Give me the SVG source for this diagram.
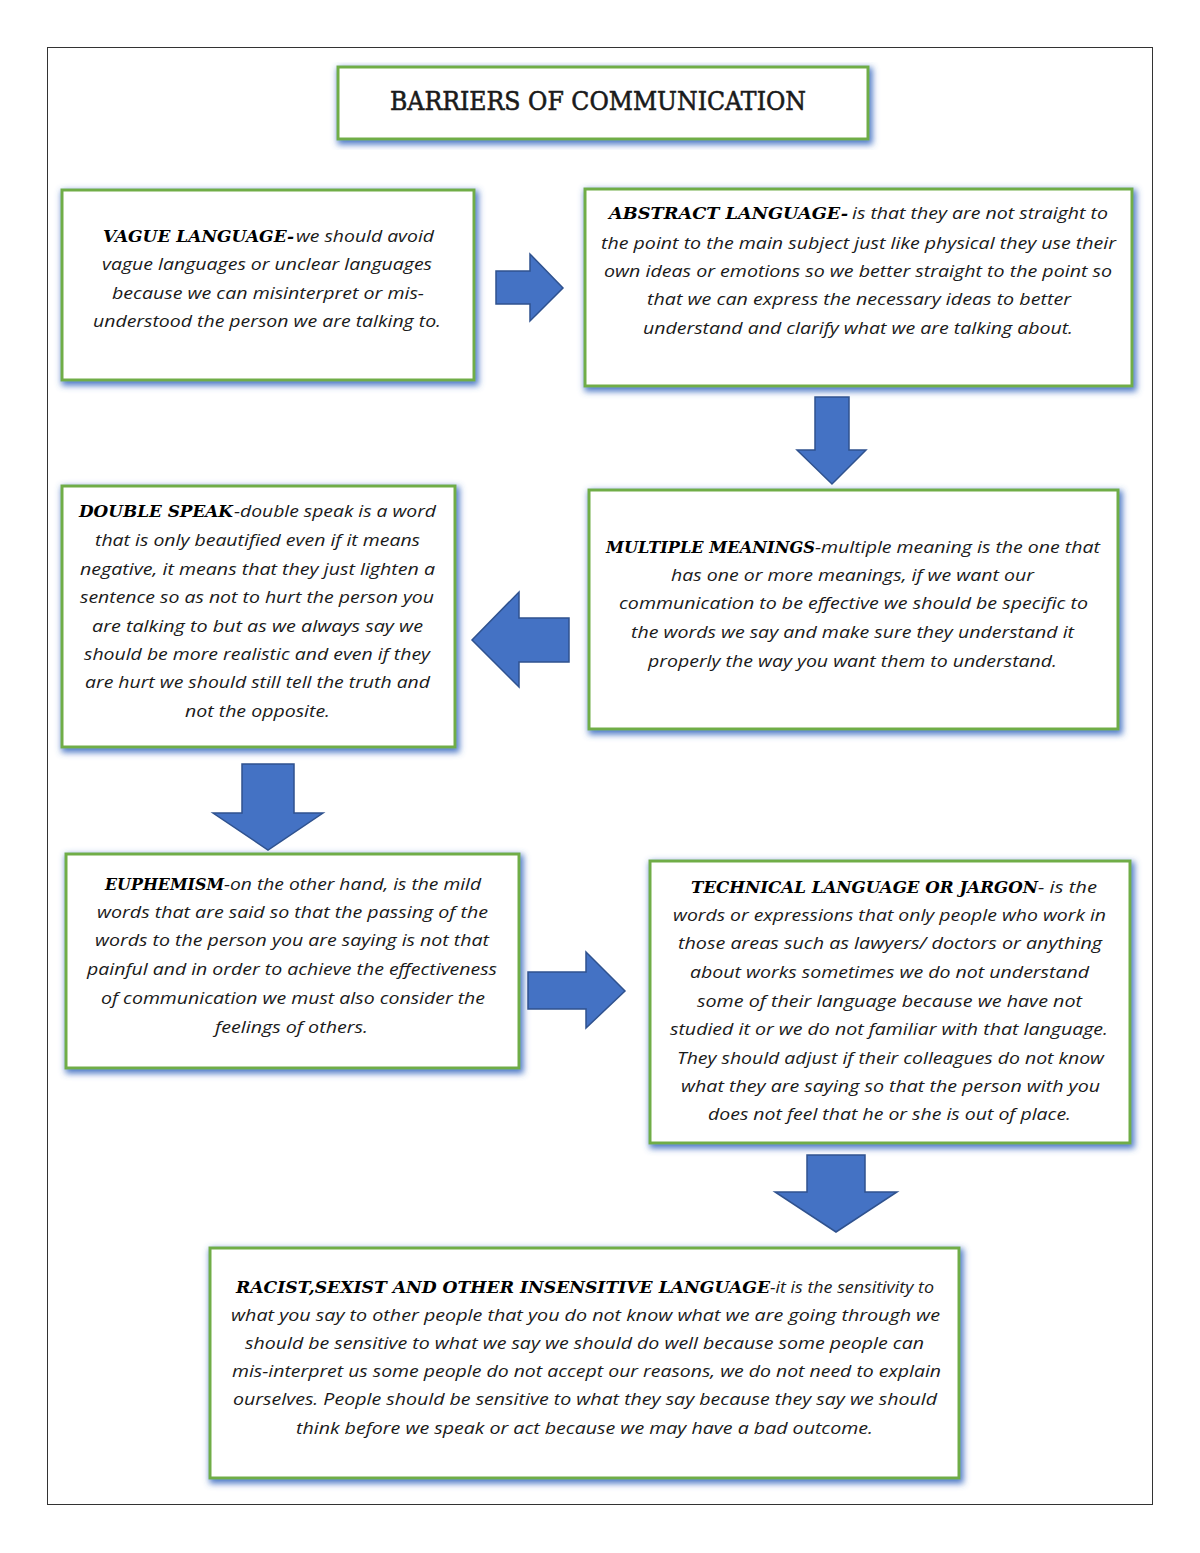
<svg xmlns="http://www.w3.org/2000/svg" width="1200" height="1553" viewBox="0 0 1200 1553">
<style>
.box{fill:#fff;stroke:#70AD47;stroke-width:3;filter:url(#glow)}
.arrow{fill:#4472C4;stroke:#2F528F;stroke-width:1.5;stroke-linejoin:miter}
.t{font-family:"Open Sans","Liberation Sans",sans-serif;font-style:italic;font-size:16.5px;fill:#1a1a1a}
.h{font-family:"DejaVu Serif","Liberation Serif",serif;font-style:italic;font-weight:bold;font-size:16px;fill:#000}
.title{font-family:"DejaVu Serif","Liberation Serif",serif;font-size:26px;fill:#1a1a1a;stroke:#1a1a1a;stroke-width:0.6}
</style>
<defs>
<filter id="glow" x="-6%" y="-10%" width="114%" height="125%">
<feMorphology in="SourceAlpha" operator="dilate" radius="1" result="d"/>
<feGaussianBlur in="d" stdDeviation="3" result="b"/>
<feOffset in="b" dx="2" dy="3" result="o"/>
<feFlood flood-color="#4472C4" flood-opacity="0.95"/>
<feComposite in2="o" operator="in" result="s"/>
<feMerge><feMergeNode in="s"/><feMergeNode in="SourceGraphic"/></feMerge>
</filter>
</defs>
<rect x="0" y="0" width="1200" height="1553" fill="#fff"/>
<rect x="47.5" y="47.5" width="1105" height="1457" fill="none" stroke="#333" stroke-width="1"/>

<g id="title">
<rect class="box" x="338" y="67" width="530" height="72"/>
<text class="title" x="390" y="110" textLength="416" lengthAdjust="spacingAndGlyphs">BARRIERS OF COMMUNICATION</text>
</g>

<g id="vague">
<rect class="box" x="62" y="190" width="412" height="190"/>
<text class="h" x="103" y="242" textLength="191" lengthAdjust="spacingAndGlyphs">VAGUE LANGUAGE-</text>
<text class="t" x="296" y="242" textLength="138" lengthAdjust="spacingAndGlyphs">we should avoid</text>
<text class="t" x="102" y="270" textLength="330" lengthAdjust="spacingAndGlyphs">vague languages or unclear languages</text>
<text class="t" x="112" y="299" textLength="312" lengthAdjust="spacingAndGlyphs">because we can misinterpret or mis-</text>
<text class="t" x="93" y="327" textLength="348" lengthAdjust="spacingAndGlyphs">understood the person we are talking to.</text>
</g>

<g id="abstract">
<rect class="box" x="585" y="189" width="547" height="197"/>
<text class="h" x="609" y="219" textLength="239" lengthAdjust="spacingAndGlyphs">ABSTRACT LANGUAGE-</text>
<text class="t" x="852" y="219" textLength="256" lengthAdjust="spacingAndGlyphs">is that they are not straight to</text>
<text class="t" x="601" y="249" textLength="515" lengthAdjust="spacingAndGlyphs">the point to the main subject just like physical they use their</text>
<text class="t" x="604" y="277" textLength="508" lengthAdjust="spacingAndGlyphs">own ideas or emotions so we better straight to the point so</text>
<text class="t" x="647" y="305" textLength="424" lengthAdjust="spacingAndGlyphs">that we can express the necessary ideas to better</text>
<text class="t" x="643" y="334" textLength="430" lengthAdjust="spacingAndGlyphs">understand and clarify what we are talking about.</text>
</g>

<g id="double-speak">
<rect class="box" x="62" y="486" width="393" height="261"/>
<text class="h" x="79" y="517" textLength="154" lengthAdjust="spacingAndGlyphs">DOUBLE SPEAK</text>
<text class="t" x="234" y="517" textLength="202" lengthAdjust="spacingAndGlyphs">-double speak is a word</text>
<text class="t" x="95" y="546" textLength="325" lengthAdjust="spacingAndGlyphs">that is only beautified even if it means</text>
<text class="t" x="80" y="575" textLength="355" lengthAdjust="spacingAndGlyphs">negative, it means that they just lighten a</text>
<text class="t" x="80" y="603" textLength="354" lengthAdjust="spacingAndGlyphs">sentence so as not to hurt the person you</text>
<text class="t" x="92" y="632" textLength="331" lengthAdjust="spacingAndGlyphs">are talking to but as we always say we</text>
<text class="t" x="84" y="660" textLength="346" lengthAdjust="spacingAndGlyphs">should be more realistic and even if they</text>
<text class="t" x="85" y="688" textLength="345" lengthAdjust="spacingAndGlyphs">are hurt we should still tell the truth and</text>
<text class="t" x="185" y="717" textLength="145" lengthAdjust="spacingAndGlyphs">not the opposite.</text>
</g>

<g id="multiple-meanings">
<rect class="box" x="589" y="490" width="529" height="239"/>
<text class="h" x="606" y="553" textLength="209" lengthAdjust="spacingAndGlyphs">MULTIPLE MEANINGS</text>
<text class="t" x="815" y="553" textLength="285" lengthAdjust="spacingAndGlyphs">-multiple meaning is the one that</text>
<text class="t" x="671" y="581" textLength="363" lengthAdjust="spacingAndGlyphs">has one or more meanings, if we want our</text>
<text class="t" x="619" y="609" textLength="469" lengthAdjust="spacingAndGlyphs">communication to be effective we should be specific to</text>
<text class="t" x="631" y="638" textLength="443" lengthAdjust="spacingAndGlyphs">the words we say and make sure they understand it</text>
<text class="t" x="648" y="667" textLength="409" lengthAdjust="spacingAndGlyphs">properly the way you want them to understand.</text>
</g>

<g id="euphemism">
<rect class="box" x="66" y="854" width="453" height="214"/>
<text class="h" x="105" y="890" textLength="119" lengthAdjust="spacingAndGlyphs">EUPHEMISM</text>
<text class="t" x="224" y="890" textLength="257" lengthAdjust="spacingAndGlyphs">-on the other hand, is the mild</text>
<text class="t" x="97" y="918" textLength="391" lengthAdjust="spacingAndGlyphs">words that are said so that the passing of the</text>
<text class="t" x="95" y="946" textLength="394" lengthAdjust="spacingAndGlyphs">words to the person you are saying is not that</text>
<text class="t" x="87" y="975" textLength="410" lengthAdjust="spacingAndGlyphs">painful and in order to achieve the effectiveness</text>
<text class="t" x="101" y="1004" textLength="384" lengthAdjust="spacingAndGlyphs">of communication we must also consider the</text>
<text class="t" x="215" y="1033" textLength="153" lengthAdjust="spacingAndGlyphs">feelings of others.</text>
</g>

<g id="technical-language">
<rect class="box" x="650" y="861" width="480" height="282"/>
<text class="h" x="691" y="893" textLength="347" lengthAdjust="spacingAndGlyphs">TECHNICAL LANGUAGE OR JARGON</text>
<text class="t" x="1038" y="893" textLength="59" lengthAdjust="spacingAndGlyphs">- is the</text>
<text class="t" x="673" y="921" textLength="433" lengthAdjust="spacingAndGlyphs">words or expressions that only people who work in</text>
<text class="t" x="678" y="949" textLength="424" lengthAdjust="spacingAndGlyphs">those areas such as lawyers/ doctors or  anything</text>
<text class="t" x="690" y="978" textLength="399" lengthAdjust="spacingAndGlyphs">about works sometimes we do not understand</text>
<text class="t" x="697" y="1007" textLength="385" lengthAdjust="spacingAndGlyphs">some of their language because we have not</text>
<text class="t" x="670" y="1035" textLength="438" lengthAdjust="spacingAndGlyphs">studied it or we do not familiar with that language.</text>
<text class="t" x="677" y="1064" textLength="427" lengthAdjust="spacingAndGlyphs">They should adjust if their colleagues do not know</text>
<text class="t" x="681" y="1092" textLength="419" lengthAdjust="spacingAndGlyphs">what they are saying so that the person with you</text>
<text class="t" x="708" y="1120" textLength="363" lengthAdjust="spacingAndGlyphs">does not feel that he or she is out of place.</text>
</g>

<g id="insensitive-language">
<rect class="box" x="210" y="1248" width="749" height="230"/>
<text class="h" x="236" y="1293" textLength="534" lengthAdjust="spacingAndGlyphs">RACIST,SEXIST AND OTHER INSENSITIVE LANGUAGE</text>
<text class="t" x="770" y="1293" textLength="164" lengthAdjust="spacingAndGlyphs">-it is the sensitivity to</text>
<text class="t" x="231" y="1321" textLength="709" lengthAdjust="spacingAndGlyphs">what you say to other people that you do not know what we are going through we</text>
<text class="t" x="245" y="1349" textLength="679" lengthAdjust="spacingAndGlyphs">should be sensitive to what we say we should do well because some people can</text>
<text class="t" x="232" y="1377" textLength="709" lengthAdjust="spacingAndGlyphs">mis-interpret us some people do not accept our reasons, we do not need to explain</text>
<text class="t" x="233" y="1405" textLength="704" lengthAdjust="spacingAndGlyphs">ourselves.  People should be sensitive to what they say because they say we should</text>
<text class="t" x="296" y="1434" textLength="577" lengthAdjust="spacingAndGlyphs">think before we speak or act because we may have a bad outcome.</text>
</g>

<g id="connectors">
<polygon class="arrow" points="496,271 530,271 530,254 563,288 530,321 530,304 496,304"/>
<polygon class="arrow" points="815,397 849,397 849,450 866,450 832,484 797,450 815,450"/>
<polygon class="arrow" points="569,618 519,618 519,592 472,640 519,687 519,662 569,662"/>
<polygon class="arrow" points="242,764 294,764 294,813 323,813 268,850 213,813 242,813"/>
<polygon class="arrow" points="528,972 586,972 586,952 625,991 586,1028 586,1009 528,1009"/>
<polygon class="arrow" points="807,1155 865,1155 865,1192 897,1192 836,1232 775,1192 807,1192"/>
</g>
</svg>
